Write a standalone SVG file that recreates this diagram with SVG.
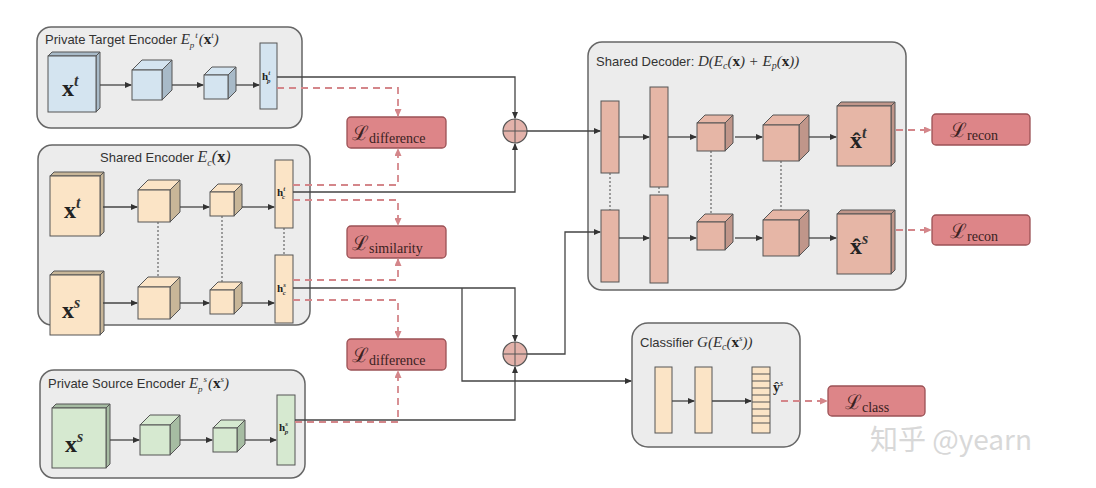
<svg xmlns="http://www.w3.org/2000/svg" width="1096" height="488" viewBox="0 0 1096 488">
<defs>
<style>
.box{fill:#ececec;stroke:#666;stroke-width:1.5}
.t{font-family:"Liberation Sans",Arial,sans-serif;font-size:13px;fill:#333}
.m{font-family:"Liberation Serif","DejaVu Serif",serif;font-style:italic;fill:#333}
.b{font-family:"Liberation Serif",serif;font-weight:bold;fill:#222}
.ln{fill:none;stroke:#444;stroke-width:1.3}
.dl{fill:none;stroke:#d4868a;stroke-width:1.8;stroke-dasharray:7 5}
.dot{fill:none;stroke:#666;stroke-width:1.2;stroke-dasharray:2 2}
.loss{fill:#dd8588;stroke:#9b5155;stroke-width:1.3}
.lt{font-family:"DejaVu Serif","Liberation Serif",serif;font-size:20px;fill:#3a2222}
.ls{font-family:"Liberation Serif",serif;font-size:14px;fill:#3a2222}
.bl{fill:#d4e4f0;stroke:#555}.bls{fill:#a8bac8;stroke:#555}
.or{fill:#fbe4c6;stroke:#555}.ors{fill:#c8b698;stroke:#555}
.gr{fill:#d6e9d0;stroke:#555}.grs{fill:#a6bca2;stroke:#555}
.pk{fill:#e6b6a6;stroke:#555}.pks{fill:#c0968a;stroke:#555}
.sum{fill:#e3b2aa;stroke:#555;stroke-width:1.2}
</style>
<marker id="a" markerWidth="7" markerHeight="6" refX="6" refY="3" orient="auto" markerUnits="userSpaceOnUse"><path d="M0,0L7,3L0,6z" fill="#333"/></marker>
<marker id="r" markerWidth="8" markerHeight="7" refX="7" refY="3.5" orient="auto" markerUnits="userSpaceOnUse"><path d="M0,0L8,3.5L0,7z" fill="#d4868a"/></marker>
</defs>

<g id="target-encoder">
<rect class="box" x="37" y="27" width="265" height="101" rx="14"/>
<text class="t" x="45" y="44">Private Target Encoder <tspan class="m" font-size="15">E</tspan><tspan class="m" font-size="9" dy="4">p</tspan><tspan class="m" font-size="9" dx="1" dy="-10">t</tspan><tspan class="m" font-size="15" dx="1" dy="6">(</tspan><tspan class="b" font-size="15">x</tspan><tspan class="m" font-size="9" dy="-6">t</tspan><tspan class="m" font-size="15" dy="6">)</tspan></text>
<polygon class="bls" points="48,56 52,52 100,52 96,56"/><polygon class="bls" points="96,56 100,52 100,108 96,112"/>
<rect class="bl" x="48" y="56" width="48" height="56"/>
<text class="b" x="62" y="96" font-size="24">x<tspan class="m" font-size="16" dy="-10">t</tspan></text>
<polygon class="bl" points="132,70 142,60 172,60 162,70"/><polygon class="bls" points="162,70 172,60 172,90 162,100"/><rect class="bl" x="132" y="70" width="30" height="30"/>
<polygon class="bl" points="204,75 212,67 236,67 228,75"/><polygon class="bls" points="228,75 236,67 236,91 228,99"/><rect class="bl" x="204" y="75" width="24" height="24"/>
<rect class="bl" x="260" y="43" width="17" height="66"/>
<text class="b" x="262" y="80" font-size="11">h<tspan class="m" font-size="7" dy="-5">t</tspan><tspan class="m" font-size="7" dx="-3" dy="8">p</tspan></text>
</g>

<g id="shared-encoder">
<rect class="box" x="38" y="145" width="272" height="180" rx="14"/>
<text class="t" x="100" y="162">Shared Encoder <tspan class="m" font-size="16">E</tspan><tspan class="m" font-size="10" dy="4">c</tspan><tspan class="m" font-size="16" dy="-4">(</tspan><tspan class="b" font-size="16">x</tspan><tspan class="m" font-size="16">)</tspan></text>
<polygon class="ors" points="50,176 54,172 104,172 100,176"/><polygon class="ors" points="100,176 104,172 104,232 100,236"/>
<rect class="or" x="50" y="176" width="50" height="60"/>
<text class="b" x="64" y="218" font-size="24">x<tspan class="m" font-size="16" dy="-10">t</tspan></text>
<polygon class="or" points="138,190 148,180 180,180 170,190"/><polygon class="ors" points="170,190 180,180 180,212 170,222"/><rect class="or" x="138" y="190" width="32" height="32"/>
<polygon class="or" points="210,192 218,184 242,184 234,192"/><polygon class="ors" points="234,192 242,184 242,208 234,216"/><rect class="or" x="210" y="192" width="24" height="24"/>
<rect class="or" x="275" y="160" width="18" height="68"/>
<text class="b" x="277" y="196" font-size="11">h<tspan class="m" font-size="7" dy="-5">t</tspan><tspan class="m" font-size="7" dx="-3" dy="8">c</tspan></text>
<polygon class="ors" points="50,275 54,271 104,271 100,275"/><polygon class="ors" points="100,275 104,271 104,331 100,335"/>
<rect class="or" x="50" y="275" width="50" height="60"/>
<text class="b" x="62" y="318" font-size="24">x<tspan class="m" font-size="16" dy="-10">s</tspan></text>
<polygon class="or" points="138,287 148,277 180,277 170,287"/><polygon class="ors" points="170,287 180,277 180,309 170,319"/><rect class="or" x="138" y="287" width="32" height="32"/>
<polygon class="or" points="210,290 218,282 242,282 234,290"/><polygon class="ors" points="234,290 242,282 242,306 234,314"/><rect class="or" x="210" y="290" width="24" height="24"/>
<rect class="or" x="275" y="255" width="18" height="68"/>
<text class="b" x="277" y="292" font-size="11">h<tspan class="m" font-size="7" dy="-5">s</tspan><tspan class="m" font-size="7" dx="-3" dy="8">c</tspan></text>
<path class="dot" d="M158,222V277M222,216V282M284,228V255"/>
</g>

<g id="source-encoder">
<rect class="box" x="40" y="370" width="265" height="108" rx="14"/>
<text class="t" x="48" y="388">Private Source Encoder <tspan class="m" font-size="15">E</tspan><tspan class="m" font-size="9" dy="4">p</tspan><tspan class="m" font-size="9" dx="1" dy="-10">s</tspan><tspan class="m" font-size="15" dx="1" dy="6">(</tspan><tspan class="b" font-size="15">x</tspan><tspan class="m" font-size="9" dy="-6">s</tspan><tspan class="m" font-size="15" dy="6">)</tspan></text>
<polygon class="grs" points="52,408 56,404 110,404 106,408"/><polygon class="grs" points="106,408 110,404 110,464 106,468"/>
<rect class="gr" x="52" y="408" width="54" height="60"/>
<text class="b" x="65" y="452" font-size="24">x<tspan class="m" font-size="16" dy="-10">s</tspan></text>
<polygon class="gr" points="140,425 150,415 180,415 170,425"/><polygon class="grs" points="170,425 180,415 180,445 170,455"/><rect class="gr" x="140" y="425" width="30" height="30"/>
<polygon class="gr" points="213,428 221,420 245,420 237,428"/><polygon class="grs" points="237,428 245,420 245,444 237,452"/><rect class="gr" x="213" y="428" width="24" height="24"/>
<rect class="gr" x="277" y="395" width="18" height="70"/>
<text class="b" x="279" y="431" font-size="11">h<tspan class="m" font-size="7" dy="-5">s</tspan><tspan class="m" font-size="7" dx="-3" dy="8">p</tspan></text>
</g>

<g id="shared-decoder">
<rect class="box" x="588" y="42" width="318" height="248" rx="14"/>
<text class="t" x="596" y="66" font-size="16">Shared Decoder: <tspan class="m" font-size="15">D</tspan><tspan class="m" font-size="15">(E</tspan><tspan class="m" font-size="10" dy="3">c</tspan><tspan class="m" font-size="15" dy="-3">(</tspan><tspan class="b" font-size="15">x</tspan><tspan class="m" font-size="15">) + E</tspan><tspan class="m" font-size="10" dy="3">p</tspan><tspan class="m" font-size="15" dy="-3">(</tspan><tspan class="b" font-size="15">x</tspan><tspan class="m" font-size="15">))</tspan></text>
<rect class="pk" x="601" y="101" width="18" height="72"/><rect class="pk" x="650" y="87" width="18" height="100"/>
<rect class="pk" x="601" y="210" width="18" height="72"/><rect class="pk" x="650" y="195" width="18" height="88"/>
<polygon class="pk" points="697,123 705,115 733,115 725,123"/><polygon class="pks" points="725,123 733,115 733,143 725,151"/><rect class="pk" x="697" y="123" width="28" height="28"/>
<polygon class="pk" points="763,125 773,115 809,115 799,125"/><polygon class="pks" points="799,125 809,115 809,151 799,161"/><rect class="pk" x="763" y="125" width="36" height="36"/>
<polygon class="pks" points="837,106 841,102 895,102 891,106"/><polygon class="pks" points="891,106 895,102 895,162 891,166"/><rect class="pk" x="837" y="106" width="54" height="60"/>
<text class="b" x="850" y="148" font-size="24">x̂<tspan class="m" font-size="16" dy="-10">t</tspan></text>
<polygon class="pk" points="697,222 705,214 733,214 725,222"/><polygon class="pks" points="725,222 733,214 733,242 725,250"/><rect class="pk" x="697" y="222" width="28" height="28"/>
<polygon class="pk" points="763,220 773,210 809,210 799,220"/><polygon class="pks" points="799,220 809,210 809,246 799,256"/><rect class="pk" x="763" y="220" width="36" height="36"/>
<polygon class="pks" points="837,214 841,210 895,210 891,214"/><polygon class="pks" points="891,214 895,210 895,270 891,274"/><rect class="pk" x="837" y="214" width="54" height="60"/>
<text class="b" x="850" y="254" font-size="24">x̂<tspan class="m" font-size="16" dy="-10">s</tspan></text>
<path class="dot" d="M610,173V210M659,187V195M711,151V214M781,161V210"/>
</g>

<g id="classifier">
<rect class="box" x="632" y="323" width="168" height="124" rx="16"/>
<text class="t" x="640" y="347">Classifier <tspan class="m" font-size="15">G</tspan><tspan class="m" font-size="15">(E</tspan><tspan class="m" font-size="10" dy="3">c</tspan><tspan class="m" font-size="15" dy="-3">(</tspan><tspan class="b" font-size="15">x</tspan><tspan class="m" font-size="9" dy="-6">s</tspan><tspan class="m" font-size="15" dy="6">))</tspan></text>
<rect class="or" x="655" y="367" width="17" height="66"/><rect class="or" x="695" y="367" width="17" height="66"/>
<rect class="or" x="752" y="367" width="18" height="66"/>
<path d="M752,374H770M752,381H770M752,388H770M752,395H770M752,402H770M752,409H770M752,416H770M752,423H770" stroke="#555" stroke-width="1"/>
<text class="b" x="773" y="392" font-size="14">ŷ<tspan class="m" font-size="8" dy="-6">s</tspan></text>
</g>

<g id="losses">
<rect class="loss" x="347" y="117" width="99" height="31" rx="4"/><text class="lt" x="352" y="140">ℒ<tspan class="ls" dy="3">difference</tspan></text>
<rect class="loss" x="347" y="226" width="99" height="32" rx="4"/><text class="lt" x="352" y="250">ℒ<tspan class="ls" dy="3">similarity</tspan></text>
<rect class="loss" x="347" y="339" width="99" height="31" rx="4"/><text class="lt" x="352" y="362">ℒ<tspan class="ls" dy="3">difference</tspan></text>
<rect class="loss" x="932" y="114" width="98" height="31" rx="4"/><text class="lt" x="950" y="137">ℒ<tspan class="ls" dy="3">recon</tspan></text>
<rect class="loss" x="932" y="215" width="98" height="30" rx="4"/><text class="lt" x="950" y="238">ℒ<tspan class="ls" dy="3">recon</tspan></text>
<rect class="loss" x="828" y="386" width="97" height="30" rx="4"/><text class="lt" x="845" y="409">ℒ<tspan class="ls" dy="3">class</tspan></text>
</g>

<g id="sum-top"><circle class="sum" cx="515" cy="131" r="12"/><path d="M503,131H527M515,119V143" stroke="#555"/></g>
<g id="sum-bottom"><circle class="sum" cx="515" cy="354" r="12"/><path d="M503,354H527M515,342V366" stroke="#555"/></g>

<g id="connectors">
<path class="ln" marker-end="url(#a)" d="M100,85H131"/><path class="ln" marker-end="url(#a)" d="M172,85H203"/><path class="ln" marker-end="url(#a)" d="M236,85H259"/>
<path class="ln" marker-end="url(#a)" d="M103,207H137"/><path class="ln" marker-end="url(#a)" d="M180,207H209"/><path class="ln" marker-end="url(#a)" d="M242,207H274"/>
<path class="ln" marker-end="url(#a)" d="M103,303H137"/><path class="ln" marker-end="url(#a)" d="M180,303H209"/><path class="ln" marker-end="url(#a)" d="M242,303H274"/>
<path class="ln" marker-end="url(#a)" d="M110,440H139"/><path class="ln" marker-end="url(#a)" d="M180,440H212"/><path class="ln" marker-end="url(#a)" d="M245,440H276"/>
<path class="ln" marker-end="url(#a)" d="M619,137H649"/><path class="ln" marker-end="url(#a)" d="M668,137H696"/><path class="ln" marker-end="url(#a)" d="M735,137H762"/><path class="ln" marker-end="url(#a)" d="M809,137H836"/>
<path class="ln" marker-end="url(#a)" d="M619,238H649"/><path class="ln" marker-end="url(#a)" d="M668,238H696"/><path class="ln" marker-end="url(#a)" d="M735,238H762"/><path class="ln" marker-end="url(#a)" d="M809,238H836"/>
<path class="ln" marker-end="url(#a)" d="M672,401H694"/><path class="ln" marker-end="url(#a)" d="M712,401H751"/>
<path class="ln" marker-end="url(#a)" d="M277,77H515V118"/>
<path class="ln" marker-end="url(#a)" d="M293,192H515V144"/>
<path class="ln" marker-end="url(#a)" d="M527,131H600"/>
<path class="ln" marker-end="url(#a)" d="M293,288H515V341"/>
<path class="ln" marker-end="url(#a)" d="M295,420H515V367"/>
<path class="ln" marker-end="url(#a)" d="M527,354H565V232H600"/>
<path class="ln" marker-end="url(#a)" d="M462,288V381H631"/>
<path class="dl" marker-end="url(#r)" d="M277,88H398V116"/>
<path class="dl" marker-end="url(#r)" d="M293,185H398V149"/>
<path class="dl" marker-end="url(#r)" d="M293,200H398V225"/>
<path class="dl" marker-end="url(#r)" d="M293,280H398V259"/>
<path class="dl" marker-end="url(#r)" d="M293,300H398V338"/>
<path class="dl" marker-end="url(#r)" d="M295,422H398V371"/>
<path class="dl" marker-end="url(#r)" d="M896,130H931"/><path class="dl" marker-end="url(#r)" d="M896,230H931"/><path class="dl" marker-end="url(#r)" d="M781,401H827"/>
</g>

<text x="870" y="450" font-family="'Noto Sans CJK SC','Noto Sans',sans-serif" font-size="28" fill="#d8d8d8">知乎 @yearn</text>
</svg>
